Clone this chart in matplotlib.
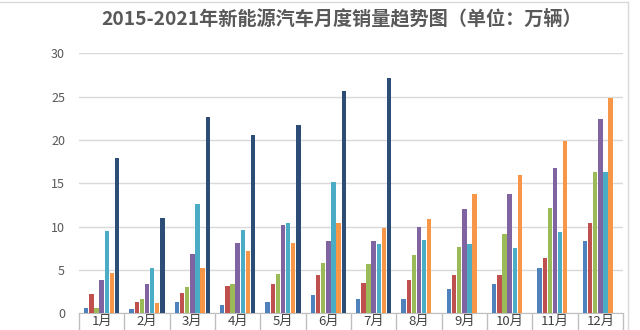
import numpy as np
import matplotlib
matplotlib.use("Agg")
import matplotlib.pyplot as plt  # noqa: E402
from matplotlib.lines import Line2D  # noqa: E402

plt.rcParams["font.family"] = ["Noto Sans CJK SC", "DejaVu Sans"]

months = ["1月", "2月", "3月", "4月", "5月", "6月",
          "7月", "8月", "9月", "10月", "11月", "12月"]
years = ["2015", "2016", "2017", "2018", "2019", "2020", "2021"]

s2015 = [0.65, 0.5, 1.35, 1.0, 1.35, 2.1, 1.7, 1.7, 2.8, 3.4, 5.2, 8.35]
s2016 = [2.2, 1.35, 2.3, 3.15, 3.4, 4.4, 3.5, 3.8, 4.4, 4.4, 6.4, 10.4]
s2017 = [0.65, 1.7, 3.0, 3.4, 4.5, 5.8, 5.7, 6.7, 7.7, 9.1, 12.2, 16.3]
s2018 = [3.8, 3.4, 6.8, 8.1, 10.15, 8.35, 8.35, 10.0, 12.0, 13.8, 16.8, 22.4]
s2019 = [9.5, 5.2, 12.6, 9.65, 10.4, 15.1, 8.0, 8.45, 8.0, 7.5, 9.4, 16.3]
s2020 = [4.6, 1.2, 5.2, 7.15, 8.1, 10.4, 9.8, 10.9, 13.8, 16.0, 19.9, 24.8]
s2021 = [17.9, 11.0, 22.6, 20.6, 21.7, 25.6, 27.1]

series = [s2015, s2016, s2017, s2018, s2019, s2020, s2021]
colors = ["#4F81BD", "#C0504D", "#9BBB59", "#8064A2",
          "#4BACC6", "#F79646", "#2C4D75"]

fig = plt.figure(figsize=(6.4, 3.3), dpi=100)
ax = fig.add_axes([79 / 640, 1 - 313.3 / 330, (623 - 79) / 640, (313.3 - 53.3) / 330])

x = np.arange(len(months))
slot = 0.79 / 7
for i, (vals, c) in enumerate(zip(series, colors)):
    xi = x[:len(vals)] - 0.395 + slot * (i + 0.5)
    ax.bar(xi, vals, width=slot * 0.85, color=c, zorder=3, label=years[i])

ax.set_xlim(-0.5, 11.5)
ax.set_ylim(0, 30)
ax.set_yticks(range(0, 31, 5))
ax.grid(axis="y", color="#D9D9D9", lw=1, zorder=0)
for sp in ["top", "right", "left"]:
    ax.spines[sp].set_visible(False)
ax.spines["bottom"].set_color("#BFBFBF")
ax.tick_params(axis="y", length=0, labelsize=9, labelcolor="#595959", pad=10)
ax.set_xticks(x)
ax.set_xticklabels(months)
ax.tick_params(axis="x", length=0, labelsize=9.5, labelcolor="#404040", pad=1)
ax.set_xticks(np.arange(-0.5, 12, 1), minor=True)
ax.tick_params(axis="x", which="minor", length=13, color="#BFBFBF", width=1)

fig.text(342 / 640, 1 - 19 / 330, "2015-2021年新能源汽车月度销量趋势图（单位：万辆）",
         ha="center", va="center", fontsize=13.8, fontweight="bold", color="#595959")

# chart frame
fig.add_artist(Line2D([0, 628 / 640], [1 - 2 / 330] * 2, color="#D9D9D9", lw=1))
fig.add_artist(Line2D([628 / 640] * 2, [0, 1 - 2 / 330], color="#D9D9D9", lw=1))

fig.savefig("out.png", dpi=100)
